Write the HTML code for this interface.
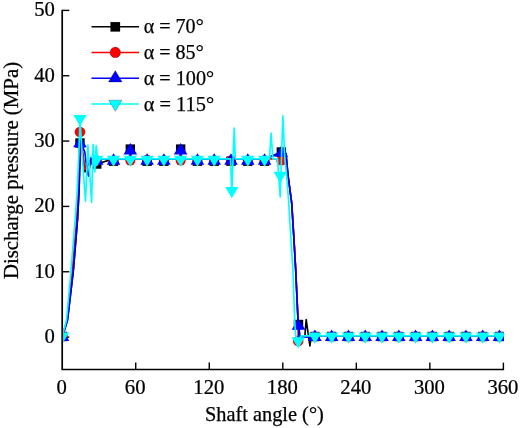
<!DOCTYPE html>
<html><head><meta charset="utf-8"><title>Discharge pressure vs shaft angle</title>
<style>html,body{margin:0;padding:0;background:#fff}body{width:520px;height:428px;overflow:hidden}</style>
</head><body>
<svg width="520" height="428" viewBox="0 0 520 428" style="display:block">
<rect width="520" height="428" fill="#fff"/>
<defs><clipPath id="c"><rect x="62.2" y="9.8" width="441.70" height="359.7"/></clipPath></defs>
<g stroke="#000" stroke-width="1.4" fill="none">
<path d="M62.2,337.10 h7.1"/>
<path d="M62.2,271.76 h7.1"/>
<path d="M62.2,206.42 h7.1"/>
<path d="M62.2,141.08 h7.1"/>
<path d="M62.2,75.74 h7.1"/>
<path d="M62.2,10.40 h7.1"/>
<path d="M135.73,369.5 v-6.9"/>
<path d="M209.27,369.5 v-6.9"/>
<path d="M282.80,369.5 v-6.9"/>
<path d="M356.33,369.5 v-6.9"/>
<path d="M429.87,369.5 v-6.9"/>
<path d="M503.40,369.5 v-6.9"/>
</g>
<g clip-path="url(#c)">
<polyline points="62.2,336.5 67.5,320.0 73.4,270.0 77.5,220.0 79.1,190.0 80.0,143.0 82.0,150.0 85.0,172.0 87.5,166.0 90.0,161.0 93.0,164.0 97.0,164.0 96.8,164.0 113.5,158.9 130.0,158.9 130.3,149.1 130.7,158.9 147.1,158.9 163.9,158.9 180.3,158.9 180.7,149.1 181.0,158.9 197.4,158.9 214.2,158.9 231.0,158.9 247.8,158.9 264.6,158.9 281.3,152.0 284.5,152.0 286.0,153.5 288.1,176.0 291.7,203.0 294.0,240.0 295.7,270.0 298.0,320.0 298.6,324.5 300.0,336.0 304.8,336.5 306.2,319.6 309.9,346.0 311.2,336.5 314.9,336.5 314.9,335.9 331.7,335.9 348.5,335.9 365.2,335.9 382.0,335.9 398.8,335.9 415.6,335.9 432.4,335.9 449.1,335.9 465.9,335.9 482.7,335.9 499.5,335.9" fill="none" stroke="#000000" stroke-width="1.65" stroke-linejoin="round"/>
<rect x="57.80" y="331.80" width="9.4" height="9.4" fill="#000000"/>
<rect x="75.28" y="138.30" width="9.4" height="9.4" fill="#000000"/>
<rect x="92.06" y="159.30" width="9.4" height="9.4" fill="#000000"/>
<rect x="108.84" y="156.50" width="9.4" height="9.4" fill="#000000"/>
<rect x="125.62" y="144.40" width="9.4" height="9.4" fill="#000000"/>
<rect x="142.40" y="156.50" width="9.4" height="9.4" fill="#000000"/>
<rect x="159.18" y="156.50" width="9.4" height="9.4" fill="#000000"/>
<rect x="175.96" y="144.40" width="9.4" height="9.4" fill="#000000"/>
<rect x="192.74" y="156.50" width="9.4" height="9.4" fill="#000000"/>
<rect x="209.52" y="156.50" width="9.4" height="9.4" fill="#000000"/>
<rect x="226.30" y="156.50" width="9.4" height="9.4" fill="#000000"/>
<rect x="243.08" y="156.50" width="9.4" height="9.4" fill="#000000"/>
<rect x="259.86" y="156.50" width="9.4" height="9.4" fill="#000000"/>
<rect x="276.64" y="147.30" width="9.4" height="9.4" fill="#000000"/>
<rect x="293.80" y="319.80" width="9.4" height="9.4" fill="#000000"/>
<rect x="310.20" y="331.80" width="9.4" height="9.4" fill="#000000"/>
<rect x="326.98" y="331.80" width="9.4" height="9.4" fill="#000000"/>
<rect x="343.76" y="331.80" width="9.4" height="9.4" fill="#000000"/>
<rect x="360.54" y="331.80" width="9.4" height="9.4" fill="#000000"/>
<rect x="377.32" y="331.80" width="9.4" height="9.4" fill="#000000"/>
<rect x="394.10" y="331.80" width="9.4" height="9.4" fill="#000000"/>
<rect x="410.88" y="331.80" width="9.4" height="9.4" fill="#000000"/>
<rect x="427.66" y="331.80" width="9.4" height="9.4" fill="#000000"/>
<rect x="444.44" y="331.80" width="9.4" height="9.4" fill="#000000"/>
<rect x="461.22" y="331.80" width="9.4" height="9.4" fill="#000000"/>
<rect x="478.00" y="331.80" width="9.4" height="9.4" fill="#000000"/>
<rect x="494.78" y="331.80" width="9.4" height="9.4" fill="#000000"/>
<polyline points="62.2,336.5 67.0,320.0 72.4,270.0 76.5,220.0 78.4,190.0 80.0,132.0 82.5,150.0 85.0,170.0 88.0,160.0 92.0,162.0 97.0,161.0 96.8,158.9 113.5,158.9 130.3,158.9 147.1,158.9 163.9,158.9 180.7,158.9 197.4,158.9 214.2,158.9 231.0,158.9 247.8,158.9 264.6,158.9 281.3,158.9 285.5,159.0 288.1,176.0 291.7,203.0 294.0,240.0 295.7,270.0 298.0,320.0 298.2,341.0 303.0,337.0 314.9,336.5 314.9,335.9 331.7,335.9 348.5,335.9 365.2,335.9 382.0,335.9 398.8,335.9 415.6,335.9 432.4,335.9 449.1,335.9 465.9,335.9 482.7,335.9 499.5,335.9" fill="none" stroke="#ff0000" stroke-width="1.65" stroke-linejoin="round"/>
<circle cx="62.50" cy="336.20" r="5.3" fill="#ff0000"/>
<circle cx="79.98" cy="132.00" r="5.3" fill="#ff0000"/>
<circle cx="96.76" cy="160.60" r="5.0" fill="#ff0000"/>
<circle cx="113.54" cy="160.60" r="5.0" fill="#ff0000"/>
<circle cx="130.32" cy="160.60" r="5.0" fill="#ff0000"/>
<circle cx="147.10" cy="159.80" r="5.0" fill="#ff0000"/>
<circle cx="163.88" cy="160.60" r="5.0" fill="#ff0000"/>
<circle cx="180.66" cy="160.60" r="5.0" fill="#ff0000"/>
<circle cx="197.44" cy="160.60" r="5.0" fill="#ff0000"/>
<circle cx="214.22" cy="160.60" r="5.0" fill="#ff0000"/>
<circle cx="231.00" cy="160.60" r="5.0" fill="#ff0000"/>
<circle cx="247.78" cy="160.60" r="5.0" fill="#ff0000"/>
<circle cx="264.56" cy="160.60" r="5.0" fill="#ff0000"/>
<circle cx="281.34" cy="160.60" r="5.0" fill="#ff0000"/>
<circle cx="298.20" cy="341.00" r="5.3" fill="#ff0000"/>
<circle cx="314.90" cy="336.60" r="5.0" fill="#ff0000"/>
<circle cx="331.68" cy="336.60" r="5.0" fill="#ff0000"/>
<circle cx="348.46" cy="336.60" r="5.0" fill="#ff0000"/>
<circle cx="365.24" cy="336.60" r="5.0" fill="#ff0000"/>
<circle cx="382.02" cy="336.60" r="5.0" fill="#ff0000"/>
<circle cx="398.80" cy="336.60" r="5.0" fill="#ff0000"/>
<circle cx="415.58" cy="336.60" r="5.0" fill="#ff0000"/>
<circle cx="432.36" cy="336.60" r="5.0" fill="#ff0000"/>
<circle cx="449.14" cy="336.60" r="5.0" fill="#ff0000"/>
<circle cx="465.92" cy="336.60" r="5.0" fill="#ff0000"/>
<circle cx="482.70" cy="336.60" r="5.0" fill="#ff0000"/>
<circle cx="499.48" cy="336.60" r="5.0" fill="#ff0000"/>
<polyline points="62.2,337.3 65.0,329.0 67.5,320.0 70.3,297.0 73.4,270.0 77.5,220.0 79.1,190.0 80.3,155.0 80.0,143.5 82.0,145.0 84.8,152.0 87.2,172.0 88.6,176.0 90.7,158.0 93.0,161.0 95.0,164.0 97.0,163.0 96.8,158.9 113.5,158.9 130.0,158.9 130.3,150.7 130.7,158.9 147.1,158.9 163.9,158.9 180.3,158.9 180.7,150.7 181.0,158.9 197.4,158.9 214.2,158.9 231.0,158.9 247.8,158.9 264.6,158.9 281.3,153.0 284.5,153.0 286.0,153.5 288.1,176.0 291.7,203.0 294.0,240.0 295.7,270.0 298.0,320.0 298.7,326.0 299.0,336.5 303.0,337.0 314.9,337.5 314.9,335.9 331.7,335.9 348.5,335.9 365.2,335.9 382.0,335.9 398.8,335.9 415.6,335.9 432.4,335.9 449.1,335.9 465.9,335.9 482.7,335.9 499.5,335.9" fill="none" stroke="#0000ff" stroke-width="1.65" stroke-linejoin="round"/>
<polygon points="55.70,341.00 69.30,341.00 62.50,329.60" fill="#0000ff"/>
<polygon points="73.18,147.30 86.78,147.30 79.98,135.90" fill="#0000ff"/>
<polygon points="89.96,164.70 103.56,164.70 96.76,153.30" fill="#0000ff"/>
<polygon points="106.74,164.70 120.34,164.70 113.54,153.30" fill="#0000ff"/>
<polygon points="123.52,154.50 137.12,154.50 130.32,143.10" fill="#0000ff"/>
<polygon points="140.30,164.70 153.90,164.70 147.10,153.30" fill="#0000ff"/>
<polygon points="157.08,164.70 170.68,164.70 163.88,153.30" fill="#0000ff"/>
<polygon points="173.86,154.50 187.46,154.50 180.66,143.10" fill="#0000ff"/>
<polygon points="190.64,164.70 204.24,164.70 197.44,153.30" fill="#0000ff"/>
<polygon points="207.42,164.70 221.02,164.70 214.22,153.30" fill="#0000ff"/>
<polygon points="224.20,164.70 237.80,164.70 231.00,153.30" fill="#0000ff"/>
<polygon points="240.98,164.70 254.58,164.70 247.78,153.30" fill="#0000ff"/>
<polygon points="257.76,164.70 271.36,164.70 264.56,153.30" fill="#0000ff"/>
<polygon points="274.54,156.80 288.14,156.80 281.34,145.40" fill="#0000ff"/>
<polygon points="291.70,329.80 305.30,329.80 298.50,318.40" fill="#0000ff"/>
<polygon points="308.10,341.00 321.70,341.00 314.90,329.60" fill="#0000ff"/>
<polygon points="324.88,341.00 338.48,341.00 331.68,329.60" fill="#0000ff"/>
<polygon points="341.66,341.00 355.26,341.00 348.46,329.60" fill="#0000ff"/>
<polygon points="358.44,341.00 372.04,341.00 365.24,329.60" fill="#0000ff"/>
<polygon points="375.22,341.00 388.82,341.00 382.02,329.60" fill="#0000ff"/>
<polygon points="392.00,341.00 405.60,341.00 398.80,329.60" fill="#0000ff"/>
<polygon points="408.78,341.00 422.38,341.00 415.58,329.60" fill="#0000ff"/>
<polygon points="425.56,341.00 439.16,341.00 432.36,329.60" fill="#0000ff"/>
<polygon points="442.34,341.00 455.94,341.00 449.14,329.60" fill="#0000ff"/>
<polygon points="459.12,341.00 472.72,341.00 465.92,329.60" fill="#0000ff"/>
<polygon points="475.90,341.00 489.50,341.00 482.70,329.60" fill="#0000ff"/>
<polygon points="492.68,341.00 506.28,341.00 499.48,329.60" fill="#0000ff"/>
<polyline points="62.2,336.8 64.5,328.0 66.5,320.0 68.6,297.0 71.0,270.0 75.1,220.0 77.2,190.0 79.0,150.0 80.0,119.0 82.5,160.0 85.5,201.2 87.9,145.0 91.6,202.5 93.1,144.5 94.8,172.0 96.2,145.5 97.6,160.0 96.8,158.9 113.5,158.9 130.3,158.9 147.1,158.9 163.9,158.9 180.7,158.9 197.4,158.9 214.2,158.9 230.6,158.9 231.8,194.0 234.2,128.0 235.3,158.9 247.8,158.9 264.6,158.9 269.5,158.9 271.1,133.0 272.8,158.9 277.5,158.9 280.2,197.0 282.9,115.8 284.8,158.9 286.3,172.0 288.7,202.0 291.0,240.0 292.9,270.0 294.7,320.0 295.6,335.0 298.2,341.0 301.0,335.9 314.9,335.9 331.7,335.9 348.5,335.9 365.2,335.9 382.0,335.9 398.8,335.9 415.6,335.9 432.4,335.9 449.1,335.9 465.9,335.9 482.7,335.9 499.5,335.9" fill="none" stroke="#00ffff" stroke-width="1.65" stroke-linejoin="round"/>
<polygon points="55.90,332.47 69.10,332.47 62.50,343.67" fill="#00ffff"/>
<polygon points="73.40,115.07 86.60,115.07 80.00,126.27" fill="#00ffff"/>
<polygon points="90.16,155.67 103.36,155.67 96.76,166.87" fill="#00ffff"/>
<polygon points="106.94,155.67 120.14,155.67 113.54,166.87" fill="#00ffff"/>
<polygon points="123.72,155.67 136.92,155.67 130.32,166.87" fill="#00ffff"/>
<polygon points="140.50,155.67 153.70,155.67 147.10,166.87" fill="#00ffff"/>
<polygon points="157.28,155.67 170.48,155.67 163.88,166.87" fill="#00ffff"/>
<polygon points="174.06,155.67 187.26,155.67 180.66,166.87" fill="#00ffff"/>
<polygon points="190.84,155.67 204.04,155.67 197.44,166.87" fill="#00ffff"/>
<polygon points="207.62,155.67 220.82,155.67 214.22,166.87" fill="#00ffff"/>
<polygon points="225.20,187.07 238.40,187.07 231.80,198.27" fill="#00ffff"/>
<polygon points="241.18,155.67 254.38,155.67 247.78,166.87" fill="#00ffff"/>
<polygon points="257.96,155.67 271.16,155.67 264.56,166.87" fill="#00ffff"/>
<polygon points="273.60,171.87 286.80,171.87 280.20,183.07" fill="#00ffff"/>
<polygon points="291.60,337.27 304.80,337.27 298.20,348.47" fill="#00ffff"/>
<polygon points="308.30,332.47 321.50,332.47 314.90,343.67" fill="#00ffff"/>
<polygon points="325.08,332.47 338.28,332.47 331.68,343.67" fill="#00ffff"/>
<polygon points="341.86,332.47 355.06,332.47 348.46,343.67" fill="#00ffff"/>
<polygon points="358.64,332.47 371.84,332.47 365.24,343.67" fill="#00ffff"/>
<polygon points="375.42,332.47 388.62,332.47 382.02,343.67" fill="#00ffff"/>
<polygon points="392.20,332.47 405.40,332.47 398.80,343.67" fill="#00ffff"/>
<polygon points="408.98,332.47 422.18,332.47 415.58,343.67" fill="#00ffff"/>
<polygon points="425.76,332.47 438.96,332.47 432.36,343.67" fill="#00ffff"/>
<polygon points="442.54,332.47 455.74,332.47 449.14,343.67" fill="#00ffff"/>
<polygon points="459.32,332.47 472.52,332.47 465.92,343.67" fill="#00ffff"/>
<polygon points="476.10,332.47 489.30,332.47 482.70,343.67" fill="#00ffff"/>
<polygon points="492.88,332.47 506.08,332.47 499.48,343.67" fill="#00ffff"/>
</g>
<path d="M62.2,9.8 V369.5 H504.10" stroke="#000" stroke-width="1.7" fill="none" stroke-linejoin="miter"/>
<g font-family="'Liberation Serif', serif" font-size="20.4px" fill="#000" stroke="#000" stroke-width="0.25">
<text transform="translate(54.9,343.0) scale(1.015,1)" text-anchor="end">0</text>
<text transform="translate(54.9,277.7) scale(1.015,1)" text-anchor="end">10</text>
<text transform="translate(54.9,212.3) scale(1.015,1)" text-anchor="end">20</text>
<text transform="translate(54.9,147.0) scale(1.015,1)" text-anchor="end">30</text>
<text transform="translate(54.9,81.6) scale(1.015,1)" text-anchor="end">40</text>
<text transform="translate(54.9,16.3) scale(1.015,1)" text-anchor="end">50</text>
<text transform="translate(61.7,393.8) scale(1.015,1)" text-anchor="middle">0</text>
<text transform="translate(135.2,393.8) scale(1.015,1)" text-anchor="middle">60</text>
<text transform="translate(208.8,393.8) scale(1.015,1)" text-anchor="middle">120</text>
<text transform="translate(282.3,393.8) scale(1.015,1)" text-anchor="middle">180</text>
<text transform="translate(355.8,393.8) scale(1.015,1)" text-anchor="middle">240</text>
<text transform="translate(429.4,393.8) scale(1.015,1)" text-anchor="middle">300</text>
<text transform="translate(502.9,393.8) scale(1.015,1)" text-anchor="middle">360</text>
<text x="205" y="421.1" textLength="118.8" lengthAdjust="spacingAndGlyphs">Shaft angle (°)</text>
<text transform="translate(17.6,279.1) rotate(-90)" textLength="217.2" lengthAdjust="spacingAndGlyphs">Discharge pressure (MPa)</text>
<path d="M91.5,26.8 H139" stroke="#000000" stroke-width="1.5"/>
<rect x="110.60" y="22.10" width="9.4" height="9.4" fill="#000000"/>
<text x="143.7" y="33.4" textLength="60.0" lengthAdjust="spacingAndGlyphs">α = 70°</text>
<path d="M91.5,52.4 H139" stroke="#ff0000" stroke-width="1.5"/>
<circle cx="115.30" cy="52.40" r="5.3" fill="#ff0000"/>
<text x="143.7" y="59.0" textLength="60.0" lengthAdjust="spacingAndGlyphs">α = 85°</text>
<path d="M91.5,78.2 H139" stroke="#0000ff" stroke-width="1.5"/>
<polygon points="108.50,82.00 122.10,82.00 115.30,70.60" fill="#0000ff"/>
<text x="143.7" y="84.8" textLength="70.4" lengthAdjust="spacingAndGlyphs">α = 100°</text>
<path d="M91.5,103.9 H139" stroke="#00ffff" stroke-width="1.5"/>
<polygon points="108.70,100.17 121.90,100.17 115.30,111.37" fill="#00ffff"/>
<text x="143.7" y="110.5" textLength="70.4" lengthAdjust="spacingAndGlyphs">α = 115°</text>
</g>
</svg>
</body></html>
